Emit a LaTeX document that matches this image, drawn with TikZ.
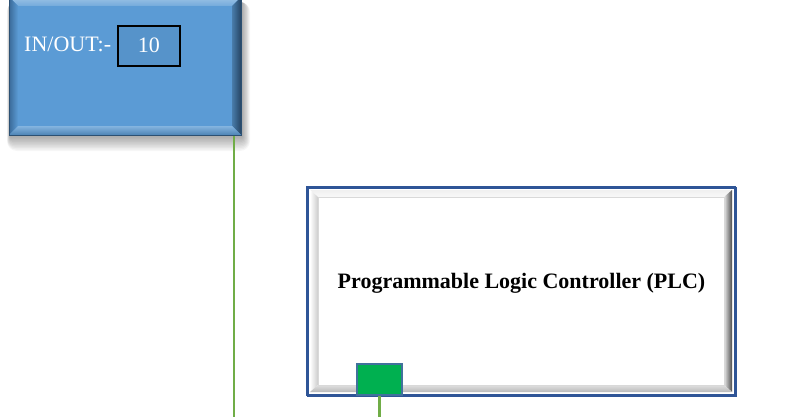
\documentclass[tikz,border=0pt]{standalone}
\usepackage{fontspec}
\setmainfont{Liberation Serif}
\usetikzlibrary{calc}
\definecolor{boxblue}{HTML}{5B9BD5}
\definecolor{boxedge}{HTML}{3A6A98}
\definecolor{plcedge}{HTML}{2F5597}
\definecolor{wire}{HTML}{70AD47}
\definecolor{portgreen}{HTML}{00B050}
\definecolor{portedge}{HTML}{41719C}
\tikzset{
  x=1pt, y=-1pt,
  wireline/.style={draw=wire, line width=2.5pt},
  labeltext/.style={text=white, font=\fontsize{22}{24}\selectfont, inner sep=0pt},
  valbox/.style={draw=black, line width=1.9pt, fill=boxblue!95!black, minimum width=62pt, minimum height=40pt, inner sep=0pt},
  plctext/.style={font=\fontsize{22}{24}\selectfont\bfseries, inner sep=0pt},
  portbox/.style={draw=portedge, fill=portgreen, line width=1.8pt, minimum width=45pt, minimum height=31pt, inner sep=0pt}
}
\begin{document}
\begin{tikzpicture}
\useasboundingbox (0,0) rectangle (794,417);
\fill[white] (0,0) rectangle (794,417);

% ---------- shadow of blue box ----------
\foreach \i in {1,...,10} {
  \fill[black, opacity=0.035, rounded corners=\i pt] (10-0.3*\i,2) rectangle (242+0.8*\i,136+1.5*\i);
}

% ---------- blue IN/OUT box ----------
\node[fill=boxblue, draw=boxedge, line width=0.8pt,
      minimum width=232pt, minimum height=138pt, inner sep=0pt, anchor=north west] (inout) at (9,-3) {};
\shade[top color=boxblue!60!white, bottom color=boxblue!85!white] (9,-3) -- (241,-3) -- (232,6) -- (18,6) -- cycle;
\shade[left color=boxedge, right color=boxblue] (9,-3) -- (18,6) -- (18,126) -- (9,135) -- cycle;
\shade[left color=boxblue!80!black, right color=boxedge!65!black] (241,-3) -- (232,6) -- (232,126) -- (241,135) -- cycle;
\shade[top color=boxblue!75!white, bottom color=boxblue!85!black] (9,135) -- (18,126) -- (232,126) -- (241,135) -- cycle;
\draw[boxedge!75!black, line width=1pt] (9,-3) rectangle (241,135);

\node[labeltext, anchor=base west] (inlabel) at (24,52) {IN/OUT:-};
\node[valbox, anchor=north west] (val) at (117,25) {};
\node[labeltext, anchor=base] (valtext) at (val.center |- 0,53) {10};

% ---------- PLC box ----------
\node[draw=plcedge, line width=1.8pt, fill=white, minimum width=428pt, minimum height=208pt, inner sep=0pt, anchor=north west] (plc) at (307,187) {};
\shade[top color=gray!12, bottom color=gray!5] (310,190) -- (732,190) -- (724,197) -- (318,197) -- cycle;
\shade[left color=white, right color=gray!40] (310,190) -- (318,197) -- (318,385) -- (310,392) -- cycle;
\shade[left color=gray!20, right color=gray!60!black] (732,190) -- (724,197) -- (724,385) -- (732,392) -- cycle;
\shade[top color=gray!25, bottom color=gray!55] (310,392) -- (318,385) -- (724,385) -- (732,392) -- cycle;
\draw[gray!30, line width=0.5pt] (318,197) rectangle (724,385);
\draw[plcedge, line width=1.6pt] (307,187) rectangle (735,395);

\node[plctext, anchor=base] (plclabel) at (521.5,288) {Programmable Logic Controller (PLC)};

\node[portbox, anchor=north west] (port) at (356,363) {};

% ---------- wires ----------
\coordinate (wireAend) at (234,417);
\coordinate (wireBend) at (port.south |- 0,417);
\draw[wireline] (inout.south -| wireAend) -- (wireAend);
\draw[wireline] (port.south) -- (wireBend);
\end{tikzpicture}
\end{document}
